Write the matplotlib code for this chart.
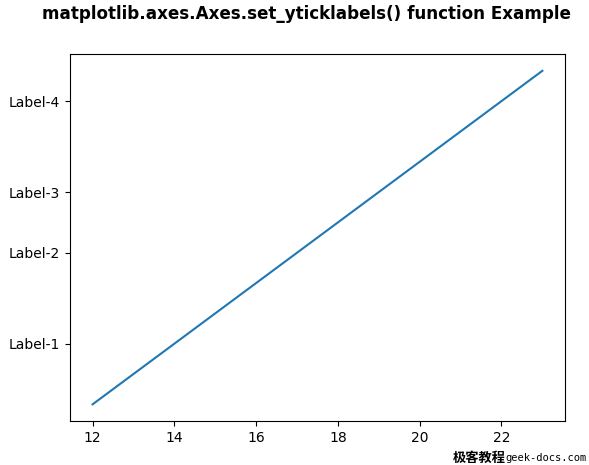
import matplotlib
matplotlib.use("Agg")
import matplotlib.pyplot as plt

xs = [12, 13, 14, 15, 16, 17, 18, 19, 20, 21, 22, 23]
ys = [12, 13, 14, 15, 16, 17, 18, 19, 20, 21, 22, 23]
ytick_pos = [14, 17, 19, 22]
ytick_labels = ["Label-1", "Label-2", "Label-3", "Label-4"]

fig = plt.figure(figsize=(5.89, 4.65), dpi=100)
ax = fig.add_axes([0.119, 0.0946, 0.840, 0.789])
ax.plot(xs, ys)
ax.set_xticks([12, 14, 16, 18, 20, 22])
ax.set_yticks(ytick_pos)
ax.set_yticklabels(ytick_labels)

fig.suptitle("matplotlib.axes.Axes.set_yticklabels() function Example",
             fontweight="bold", fontsize=12.1, x=0.521, y=0.99)

# watermark
fig.text(0.858, 0.016, "极客教程", family=["Noto Sans CJK SC", "DejaVu Sans"],
         fontsize=9.5, fontweight="bold", ha="right", va="center")
fig.text(0.996, 0.016, "geek-docs.com", family="DejaVu Sans Mono",
         fontsize=7.5, ha="right", va="center")

fig.savefig("out.png", dpi=100)
